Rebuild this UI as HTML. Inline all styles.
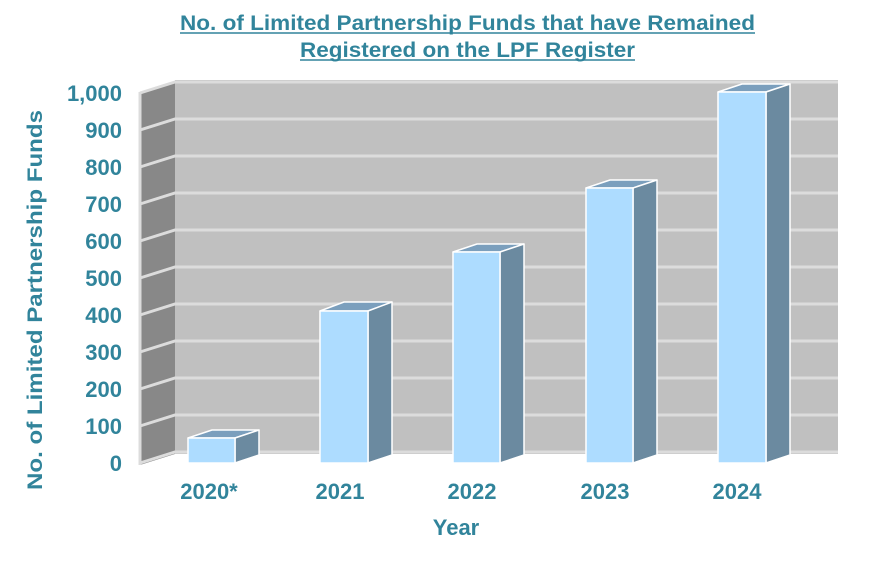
<!DOCTYPE html>
<html><head><meta charset="utf-8"><style>
html,body{margin:0;padding:0;background:#fff;}
svg{display:block;font-family:"Liberation Sans",Arial,sans-serif;}
</style></head><body>
<svg width="869" height="561" viewBox="0 0 869 561">
<rect x="175" y="80" width="663" height="374" fill="#c0c0c0"/>
<polygon points="140,92 175,81 175,454 140,465" fill="#888888"/>
<g stroke="#dcdcdc" stroke-width="3" fill="none">
<polyline points="140,93 175,82 838,82"/>
<polyline points="140,130 175,119 838,119"/>
<polyline points="140,167 175,156 838,156"/>
<polyline points="140,204 175,193 838,193"/>
<polyline points="140,241 175,230 838,230"/>
<polyline points="140,278 175,267 838,267"/>
<polyline points="140,315 175,304 838,304"/>
<polyline points="140,352 175,341 838,341"/>
<polyline points="140,389 175,378 838,378"/>
<polyline points="140,426 175,415 838,415"/>
<polyline points="140,463 175,452 838,452"/>
<line x1="140" y1="92" x2="140" y2="465"/>
</g>
<g stroke="#fff" stroke-width="1.5" stroke-linejoin="round">
<g>
<polygon points="188,438 212,430 259,430 235,438" fill="#7b9fbd"/>
<polygon points="235,438 259,430 259,455 235,463" fill="#6b8aa0"/>
<rect x="188" y="438" width="47" height="25" fill="#addcff"/>
</g>
<g>
<polygon points="320,311 344,302 392,302 368,311" fill="#7b9fbd"/>
<polygon points="368,311 392,302 392,455 368,463" fill="#6b8aa0"/>
<rect x="320" y="311" width="48" height="152" fill="#addcff"/>
</g>
<g>
<polygon points="453,252 477,244 524,244 500,252" fill="#7b9fbd"/>
<polygon points="500,252 524,244 524,455 500,463" fill="#6b8aa0"/>
<rect x="453" y="252" width="47" height="211" fill="#addcff"/>
</g>
<g>
<polygon points="586,188 610,180 657,180 633,188" fill="#7b9fbd"/>
<polygon points="633,188 657,180 657,455 633,463" fill="#6b8aa0"/>
<rect x="586" y="188" width="47" height="275" fill="#addcff"/>
</g>
<g>
<polygon points="718,92 742,84 790,84 766,92" fill="#7b9fbd"/>
<polygon points="766,92 790,84 790,455 766,463" fill="#6b8aa0"/>
<rect x="718" y="92" width="48" height="371" fill="#addcff"/>
</g>
</g>
<g fill="#31849b" font-weight="bold" font-size="21">
<text x="180" y="30" textLength="575" lengthAdjust="spacingAndGlyphs">No. of Limited Partnership Funds that have Remained</text>
<text x="300" y="57" textLength="335" lengthAdjust="spacingAndGlyphs">Registered on the LPF Register</text>
<line x1="180" y1="33" x2="755" y2="33" stroke="#31849b" stroke-width="1.5"/>
<line x1="300" y1="60" x2="635" y2="60" stroke="#31849b" stroke-width="1.5"/>
<g text-anchor="end" font-size="22">
<text x="122" y="101">1,000</text>
<text x="122" y="138">900</text>
<text x="122" y="175">800</text>
<text x="122" y="212">700</text>
<text x="122" y="249">600</text>
<text x="122" y="286">500</text>
<text x="122" y="323">400</text>
<text x="122" y="360">300</text>
<text x="122" y="397">200</text>
<text x="122" y="434">100</text>
<text x="122" y="471">0</text>
</g>
<g text-anchor="middle" font-size="22">
<text x="209" y="499">2020*</text>
<text x="340" y="499">2021</text>
<text x="472" y="499">2022</text>
<text x="605" y="499">2023</text>
<text x="737" y="499">2024</text>
<text x="456" y="535">Year</text>
</g>
<text transform="translate(42,490) rotate(-90)" font-size="21" textLength="380" lengthAdjust="spacingAndGlyphs">No. of Limited Partnership Funds</text>
</g>
</svg>
</body></html>
